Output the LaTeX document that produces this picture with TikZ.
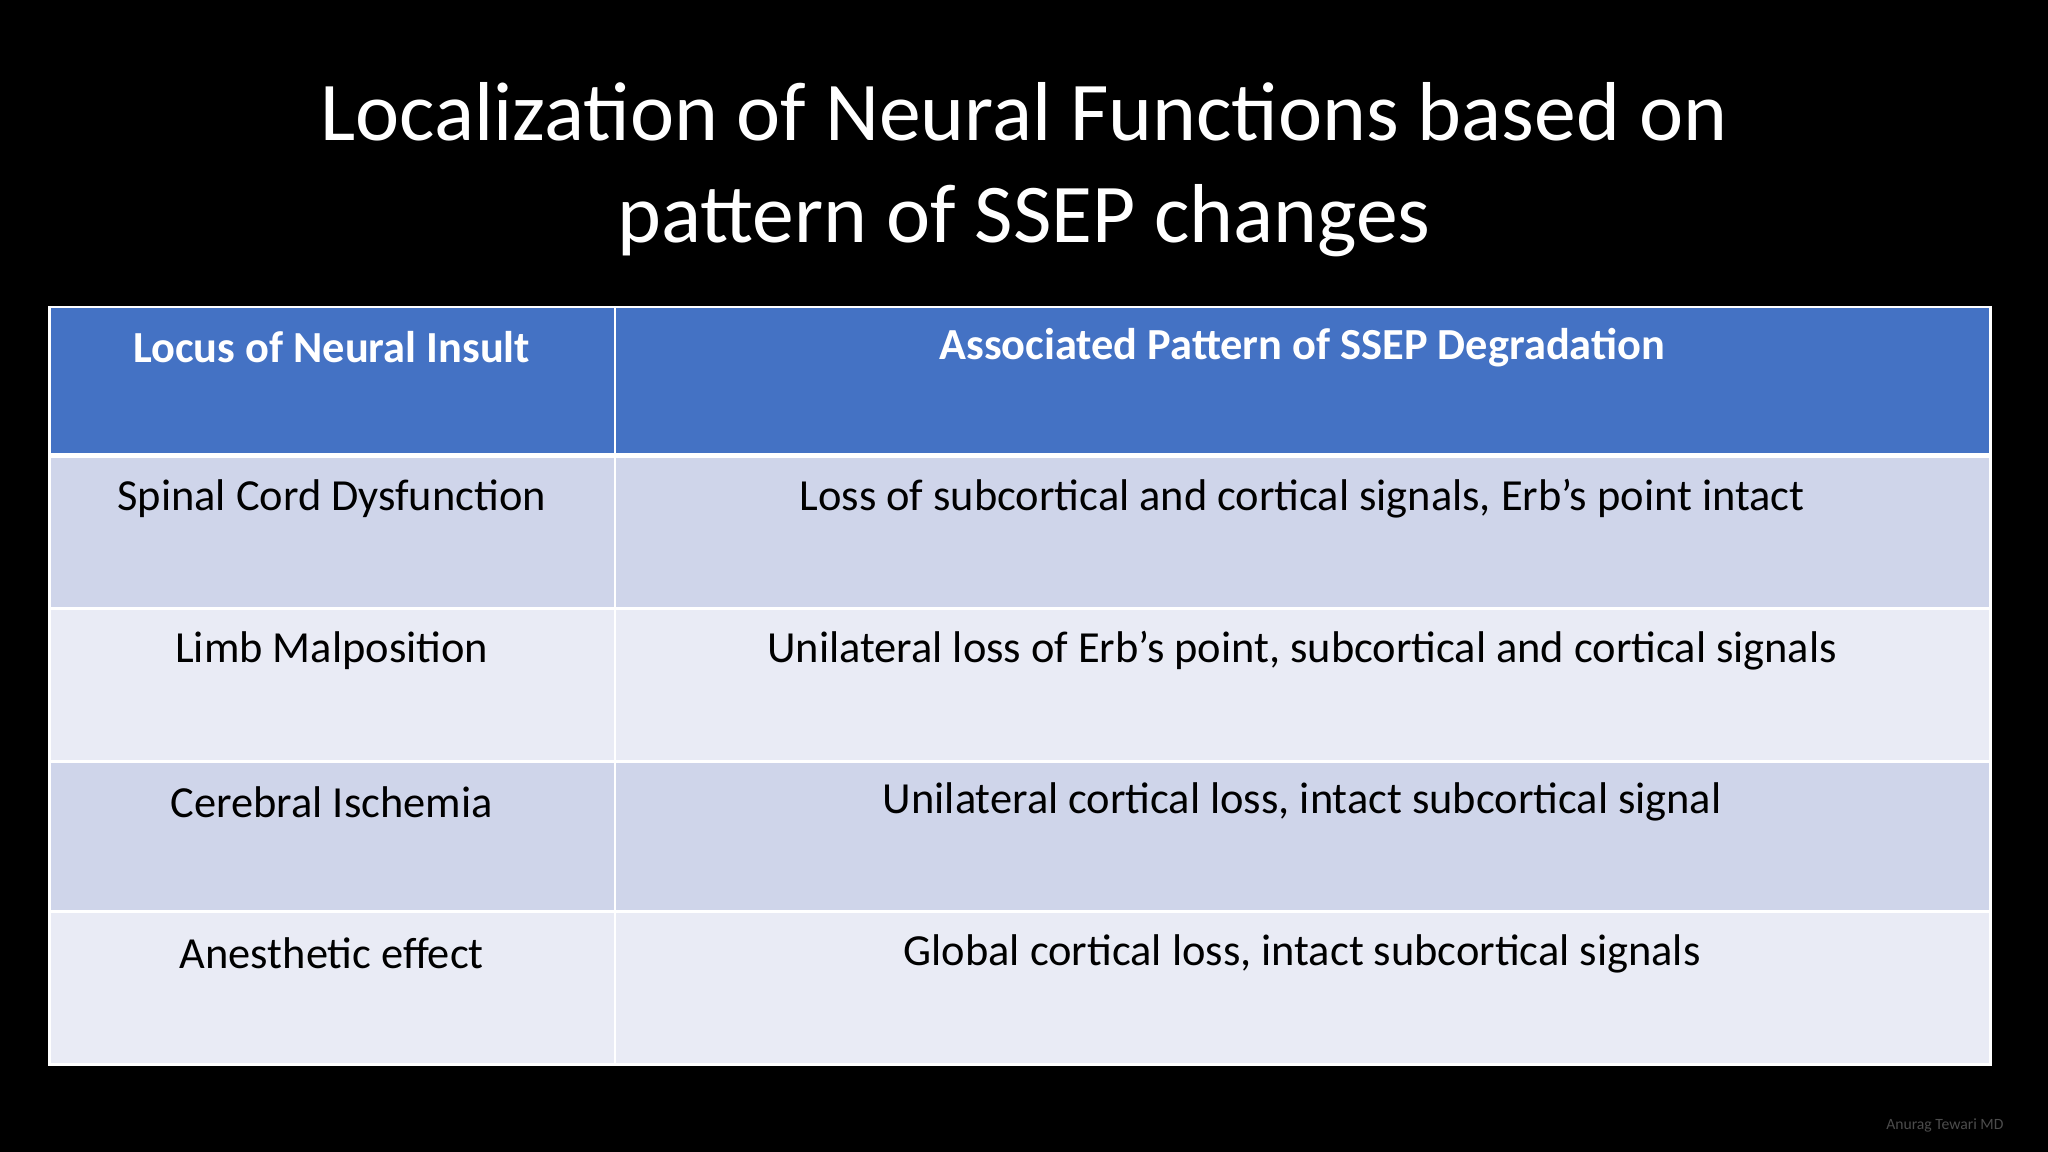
\documentclass[tikz,border=0pt]{standalone}
\usepackage{fontspec}
\setmainfont{Carlito}
\begin{document}
\begin{tikzpicture}[x=0.5pt,y=-0.5pt,
  cell/.style={anchor=center,font=\fontsize{17}{20}\selectfont,text=black},
  hcell/.style={anchor=center,font=\fontsize{17}{20}\selectfont\bfseries,text=white}]
\definecolor{hdr}{HTML}{4472C4}
\definecolor{rowa}{HTML}{CFD5EA}
\definecolor{rowb}{HTML}{E9EBF5}
\fill[black] (0,0) rectangle (1568,882);
\useasboundingbox (0,0) rectangle (1568,882);
\node[text=white,align=center,font=\fontsize{32}{39}\selectfont] (title) at (784,130) {Localization of Neural Functions based on\\pattern of SSEP changes};
\fill[hdr] (38,235) rectangle (1524,349);
\fill[rowa] (38,349) rectangle (1524,466);
\fill[rowb] (38,466) rectangle (1524,583);
\fill[rowa] (38,583) rectangle (1524,698);
\fill[rowb] (38,698) rectangle (1524,815);
\draw[white,line width=1pt] (38,235) rectangle (1524,815);
\draw[white,line width=1pt] (471,235) -- (471,815);
\draw[white,line width=2pt] (38,349) -- (1524,349);
\foreach \y in {466,583,698} \draw[white,line width=1pt] (38,\y) -- (1524,\y);
\node[hcell] (h1) at (254,266) {Locus of Neural Insult};
\node[hcell] (h2) at (997,266) {Associated Pattern of SSEP Degradation};
\node[cell] (a1) at (254,382) {Spinal Cord Dysfunction};
\node[cell] (b1) at (997,382) {Loss of subcortical and cortical signals, Erb’s point intact};
\node[cell] (a2) at (254,498) {Limb Malposition};
\node[cell] (b2) at (997,498) {Unilateral loss of Erb’s point, subcortical and cortical signals};
\node[cell] (a3) at (254,614) {Cerebral Ischemia};
\node[cell] (b3) at (997,614) {Unilateral cortical loss, intact subcortical signal};
\node[cell] (a4) at (254,730) {Anesthetic effect};
\node[cell] (b4) at (997,730) {Global cortical loss, intact subcortical signals};
\node[text=black!70!white,font=\fontsize{6}{7}\selectfont,anchor=east] (wm) at (1541,862) {Anurag Tewari MD};
\end{tikzpicture}
\end{document}
